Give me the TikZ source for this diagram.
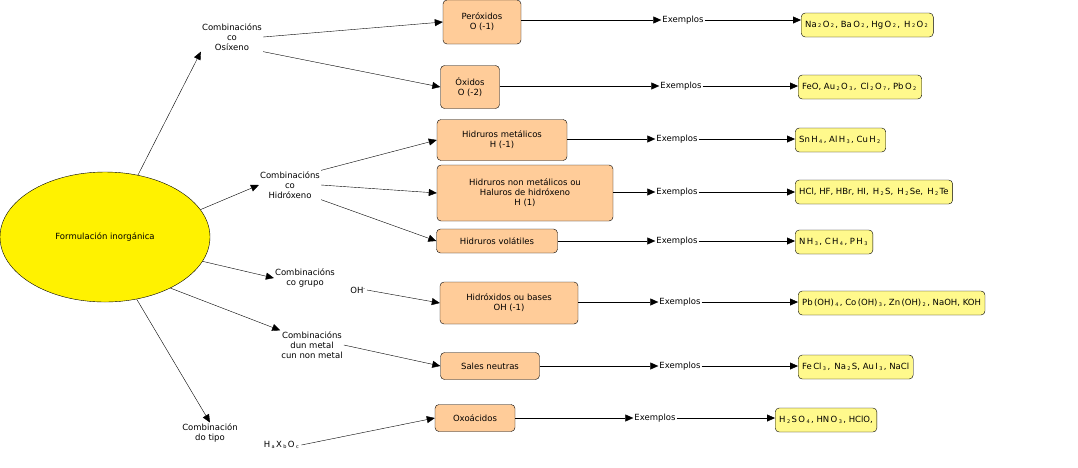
\documentclass[tikz,border=0pt]{standalone}
\usepackage{fontspec}
\setmainfont{DejaVu Sans}
\usetikzlibrary{arrows.meta,positioning,shapes.geometric}
\newcommand{\lowidx}[1]{\,{\fontsize{5}{5}\selectfont\raisebox{-0.2ex}{#1}}\,}

\begin{document}
\begin{tikzpicture}[
	x=1pt, y=-1pt,
	> = {Triangle[length=8pt,width=7pt]}, % arrow head style
	font=\fontsize{8.5}{10}\selectfont,
	T/.style={align=center, inner sep=1pt},                                  % plain text
	B/.style={rectangle, rounded corners=4pt, draw=black, fill=orange!40!white, align=center, inner sep=3pt}, % compound box
	R/.style={rectangle, rounded corners=4pt, draw=black, fill=yellow!45!white, inner sep=4pt, minimum height=24pt}, % examples
	]
	\useasboundingbox (0,0) rectangle (1078,467);

	% main node
	\node[ellipse, draw=black, fill=yellow, minimum width=210pt, minimum height=130pt] (F) at (105,237) {Formulación inorgánica};

	% groups
	\node[T] (cO) at (232,37) {Combinacións\\co\\Osíxeno};
	\node[T] (cH) at (290,185) {Combinacións\\co\\Hidróxeno};
	\node[T] (cG) at (305,278) {Combinacións\\co grupo};
	\node[T] (oh) at (358,290) {OH\textsuperscript{\fontsize{5}{5}\selectfont -}};
	\node[T] (cM) at (312,345) {Combinacións\\dun metal\\cun non metal};
	\node[T] (cT) at (210,433) {Combinación\\do tipo};
	\node[T] (hx) at (282,445) {H\lowidx{a}X\lowidx{b}O\lowidx{c}};

	% compound boxes
	\node[B, minimum width=78pt, minimum height=44pt] (per) at (482,22) {Peróxidos\\O (-1)};
	\node[B, minimum width=59pt, minimum height=43pt] (oxi) at (470,87) {Óxidos\\O (-2)};
	\node[B, minimum width=130pt, minimum height=41pt] (hm) at (502,140) {Hidruros metálicos\\H (-1)};
	\node[B, minimum width=176pt, minimum height=56pt] (hn) at (525,193) {Hidruros non metálicos ou\\Haluros de hidróxeno\\H (1)};
	\node[B, minimum width=121pt, minimum height=24pt] (hv) at (497,241) {Hidruros volátiles};
	\node[B, minimum width=138pt, minimum height=42pt] (hb) at (509,303) {Hidróxidos ou bases\\OH (-1)};
	\node[B, minimum width=99pt, minimum height=27pt] (sn) at (490,366) {Sales neutras};
	\node[B, minimum width=80pt, minimum height=27pt] (oa) at (475,418) {Oxoácidos};

	% Exemplos
	\node[T] (e1) at (683,20) {Exemplos};
	\node[T] (e2) at (681,86) {Exemplos};
	\node[T] (e3) at (677,139) {Exemplos};
	\node[T] (e4) at (677,192) {Exemplos};
	\node[T] (e5) at (677,241) {Exemplos};
	\node[T] (e6) at (680,302) {Exemplos};
	\node[T] (e7) at (680,366) {Exemplos};
	\node[T] (e8) at (655,418) {Exemplos};

	% results
	\node[R, anchor=west] (r1) at (801,25) {Na\lowidx{2}O\lowidx{2}, Ba\,O\lowidx{2}, Hg\,O\lowidx{2},\, H\lowidx{2}O\lowidx{2}};
	\node[R, anchor=west] (r2) at (798,87) {FeO, Au\lowidx{2}O\lowidx{3},\, Cl\lowidx{2}O\lowidx{7}, Pb\,O\lowidx{2}};
	\node[R, anchor=west] (r3) at (795,140) {Sn\,H\lowidx{4}, Al\,H\lowidx{3}, Cu\,H\lowidx{2}};
	\node[R, anchor=west] (r4) at (795,192) {HCl, HF, HBr, HI,\, H\lowidx{2}S,\, H\lowidx{2}Se,\, H\lowidx{2}Te};
	\node[R, anchor=west] (r5) at (795,242) {N\,H\lowidx{3}, C\,H\lowidx{4}, P\,H\lowidx{3}};
	\node[R, anchor=west] (r6) at (798,303) {Pb\,(OH)\lowidx{4}, Co\,(OH)\lowidx{3}, Zn\,(OH)\lowidx{2}, NaOH, KOH};
	\node[R, anchor=west] (r7) at (798,367) {Fe\,Cl\lowidx{3},\, Na\lowidx{2}S, Au\,I\lowidx{3}, NaCl};
	\node[R, anchor=west] (r8) at (775,420) {H\lowidx{2}S\,O\lowidx{4}, HN\,O\lowidx{3}, HClO,};

	% Paths from the main node
	\draw[->] (F.62) -- (cO.south west);
	\draw[->] (F.16) -- (cH.west);
	\draw[->] (F.-14) -- (cG.west);
	\draw[->] (F.-38) -- (cM.north west);
	\draw[->] (F.-63) -- (cT.north);

	% Paths to the boxes
	\draw[->] (cO.east) -- (per.west);
	\draw[->] (cO.south east) -- (oxi.west);
	\draw[->] (cH.north east) -- (hm.west);
	\draw[->] (cH.east) -- (hn.west);
	\draw[->] (cH.south east) -- (hv.west);
	\draw[->] (oh.east) -- (hb.west);
	\draw[->] (cM.east) -- (sn.west);
	\draw[->] (hx.east) -- (oa.west);

	% Paths to the examples
	\foreach \b/\e/\r in {per/e1/r1, oxi/e2/r2, hm/e3/r3, hn/e4/r4, hv/e5/r5, hb/e6/r6, sn/e7/r7, oa/e8/r8} {
		\draw[->] (\b.east |- \e) -- (\e.west);
		\draw[->] (\e.east) -- (\r.west |- \e);
	}
\end{tikzpicture}
\end{document}
